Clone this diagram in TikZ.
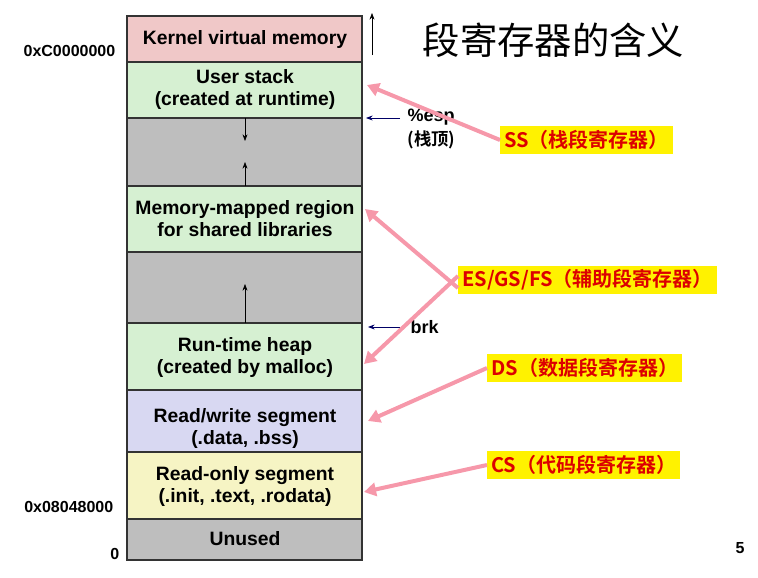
\documentclass[tikz,border=0pt]{standalone}
\usepackage{fontspec}
\setmainfont{Liberation Sans}
\newfontfamily\cjk{Noto Sans CJK SC}
\newfontfamily\cjkb{Noto Sans CJK SC Bold}
\usetikzlibrary{arrows.meta}
\definecolor{kpink}{RGB}{240,200,200}
\definecolor{lgreen}{RGB}{214,240,210}
\definecolor{lgray}{RGB}{190,190,190}
\definecolor{lblue}{RGB}{216,216,242}
\definecolor{lyel}{RGB}{246,244,196}
\definecolor{parrow}{RGB}{246,152,170}
\definecolor{lred}{RGB}{220,0,0}
\begin{document}
\begin{tikzpicture}[x=0.75pt,y=-0.75pt,
  seg/.style={draw=black!80,line width=0.8pt,fill=#1},
  segtxt/.style={font=\bfseries\fontsize{14.5}{16.5}\selectfont,align=center},
  tag/.style={fill=yellow,text=lred,font=\cjkb\fontsize{15}{17}\selectfont,inner xsep=3pt,inner ysep=3pt,anchor=west},
  parr/.style={draw=parrow,line width=3pt,-{Triangle[length=9pt,width=10pt]}},
  narr/.style={draw=blue!40!black,line width=0.6pt,-{Stealth[length=5pt]}},
  iarr/.style={draw=black,line width=0.5pt,-{Stealth[length=5pt]}},
  addr/.style={font=\bfseries\fontsize{12}{14}\selectfont,anchor=east}]
\useasboundingbox (0,0) rectangle (758,578);
\filldraw[seg=kpink] (127,16) rectangle (362,62);
\filldraw[seg=lgreen] (127,62) rectangle (362,118);
\filldraw[seg=lgray] (127,118) rectangle (362,186);
\filldraw[seg=lgreen] (127,186) rectangle (362,252);
\filldraw[seg=lgray] (127,252) rectangle (362,323);
\filldraw[seg=lgreen] (127,323) rectangle (362,390);
\filldraw[seg=lblue] (127,390) rectangle (362,452);
\filldraw[seg=lyel] (127,452) rectangle (362,519);
\filldraw[seg=lgray] (127,519) rectangle (362,560);
\node[segtxt] (kern) at (245,40) {Kernel virtual memory};
\node[segtxt] (ustk) at (245,90) {User stack\\(created at runtime)};
\node[segtxt] (mmap) at (245,219) {Memory-mapped region\\for shared libraries};
\node[segtxt] (heap) at (245,357) {Run-time heap\\(created by malloc)};
\node[segtxt] (rw) at (245,428) {Read/write segment\\(.data, .bss)};
\node[segtxt] (ro) at (245,486) {Read-only segment\\(.init, .text, .rodata)};
\node[segtxt] (unused) at (245,539) {Unused};
\coordinate (d1) at (245,118); \coordinate (d2) at (245,141);
\coordinate (u1) at (245,186); \coordinate (u2) at (245,162);
\coordinate (h1) at (245,323); \coordinate (h2) at (245,284);
\draw[iarr] (d1) -- (d2);
\draw[iarr] (u1) -- (u2);
\draw[iarr] (h1) -- (h2);
\coordinate (k1) at (372,55); \coordinate (k2) at (372,13);
\draw[iarr] (k1) -- (k2);
\node[addr] (a1) at (120,51) {0xC0000000};
\node[addr] (a2) at (118,507) {0x08048000};
\node[addr] (a3) at (124,554) {0};
\node[font=\bfseries\fontsize{12}{14}\selectfont] (pg) at (740,548) {5};
\node[font=\cjk\fontsize{28}{32}\selectfont,anchor=west] (title) at (418,40) {段寄存器的含义};
\node[font=\bfseries\fontsize{13.5}{15}\selectfont,anchor=west] (esp) at (403,117) {\%esp};
\node[font=\cjkb\fontsize{13}{15}\selectfont,anchor=west] (esp2) at (403,140) {(栈顶)};
\node[font=\bfseries\fontsize{13.5}{15}\selectfont,anchor=west] (brk) at (406,327) {brk};
\coordinate (e1) at (400,118); \coordinate (e2) at (366,118);
\coordinate (b1) at (400,327); \coordinate (b2) at (368,327);
\draw[narr] (e1) -- (e2);
\draw[narr] (b1) -- (b2);
\node[tag] (ss) at (500,140) {SS（栈段寄存器）};
\node[tag] (es) at (458,280) {ES/GS/FS（辅助段寄存器）};
\node[tag] (ds) at (487,368) {DS（数据段寄存器）};
\node[tag] (cs) at (487,465) {CS（代码段寄存器）};
\coordinate (t1) at (367,85); \coordinate (t2) at (365,209);
\coordinate (t3) at (364,364); \coordinate (t4) at (368,421);
\coordinate (t5) at (364,492);
\draw[parr] (ss.west) -- (t1);
\draw[parr] ([yshift=-6]es.west) -- (t2);
\draw[parr] ([yshift=3]es.west) -- (t3);
\draw[parr] (ds.west) -- (t4);
\draw[parr] (cs.west) -- (t5);
\end{tikzpicture}
\end{document}
